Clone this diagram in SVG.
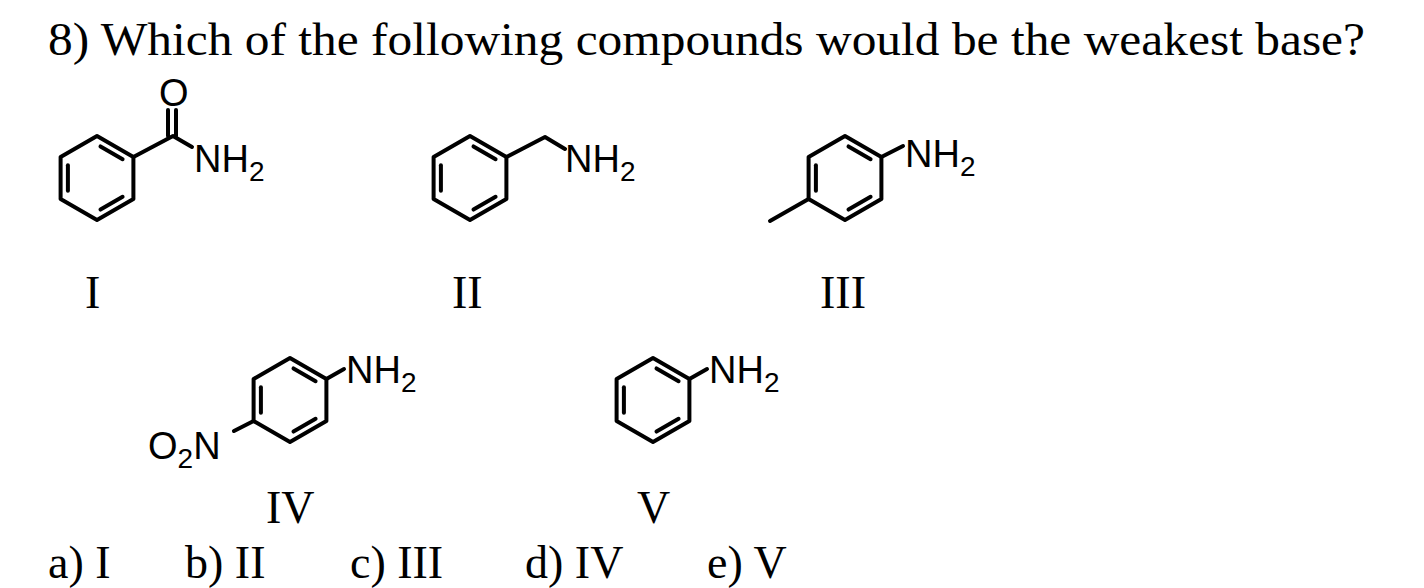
<svg xmlns="http://www.w3.org/2000/svg" width="1424" height="588" viewBox="0 0 1424 588">
<style>
.b{stroke:#000;stroke-width:4;fill:none;stroke-linejoin:round;stroke-linecap:round}
.t{font-family:"Liberation Serif",serif;font-size:46px;fill:#000}
.a{font-family:"Liberation Sans",Arial,sans-serif;font-size:38px;fill:#000}
.s{font-size:28px}
</style>
<defs>
<g id="ring" class="b">
<polygon points="0,-42 36.4,-21 36.4,21 0,42 -36.4,21 -36.4,-21"/>
<line x1="3.5" y1="-31.6" x2="25.6" y2="-18.8"/>
<line x1="-29.1" y1="-12.8" x2="-29.1" y2="12.8"/>
<line x1="25.6" y1="18.8" x2="3.5" y2="31.6"/>
</g>
</defs>
<rect width="1424" height="588" fill="#fff"/>
<text class="t" x="48" y="55" textLength="1317" lengthAdjust="spacingAndGlyphs">8) Which of the following compounds would be the weakest base?</text>
<g id="c1">
<use href="#ring" x="97" y="178"/>
<g class="b"><polyline points="133.4,157 173,136 192,147"/><line x1="168" y1="136" x2="168" y2="110"/><line x1="176" y1="136" x2="176" y2="110"/></g>
<text class="a" x="159" y="106">O</text>
<text class="a" x="194" y="172">NH<tspan class="s" dy="9">2</tspan></text>
<text class="t" x="85" y="308">I</text>
</g>
<g id="c2">
<use href="#ring" x="470" y="178"/>
<polyline class="b" points="506.4,157 545,137 565,149"/>
<text class="a" x="565" y="172">NH<tspan class="s" dy="9">2</tspan></text>
<text class="t" x="452" y="308">II</text>
</g>
<g id="c3">
<use href="#ring" x="845" y="178"/>
<line class="b" x1="881.4" y1="157" x2="903" y2="146"/>
<line class="b" x1="808.6" y1="199" x2="770" y2="221"/>
<text class="a" x="905" y="167">NH<tspan class="s" dy="9">2</tspan></text>
<text class="t" x="820" y="308">III</text>
</g>
<g id="c4">
<use href="#ring" x="290" y="400"/>
<line class="b" x1="326.4" y1="379" x2="344" y2="369"/>
<line class="b" x1="253.6" y1="421" x2="234" y2="431"/>
<text class="a" x="346" y="383">NH<tspan class="s" dy="9">2</tspan></text>
<text class="a" x="148" y="459">O<tspan class="s" dy="9">2</tspan><tspan dy="-9">N</tspan></text>
<text class="t" x="266" y="523">IV</text>
</g>
<g id="c5">
<use href="#ring" x="653" y="400"/>
<line class="b" x1="689.4" y1="379" x2="707" y2="369"/>
<text class="a" x="709" y="383">NH<tspan class="s" dy="9">2</tspan></text>
<text class="t" x="637" y="523">V</text>
</g>
<text class="t" x="48" y="578">a) I</text>
<text class="t" x="185" y="578">b) II</text>
<text class="t" x="350" y="578">c) III</text>
<text class="t" x="525" y="578">d) IV</text>
<text class="t" x="707" y="578">e) V</text>
</svg>
